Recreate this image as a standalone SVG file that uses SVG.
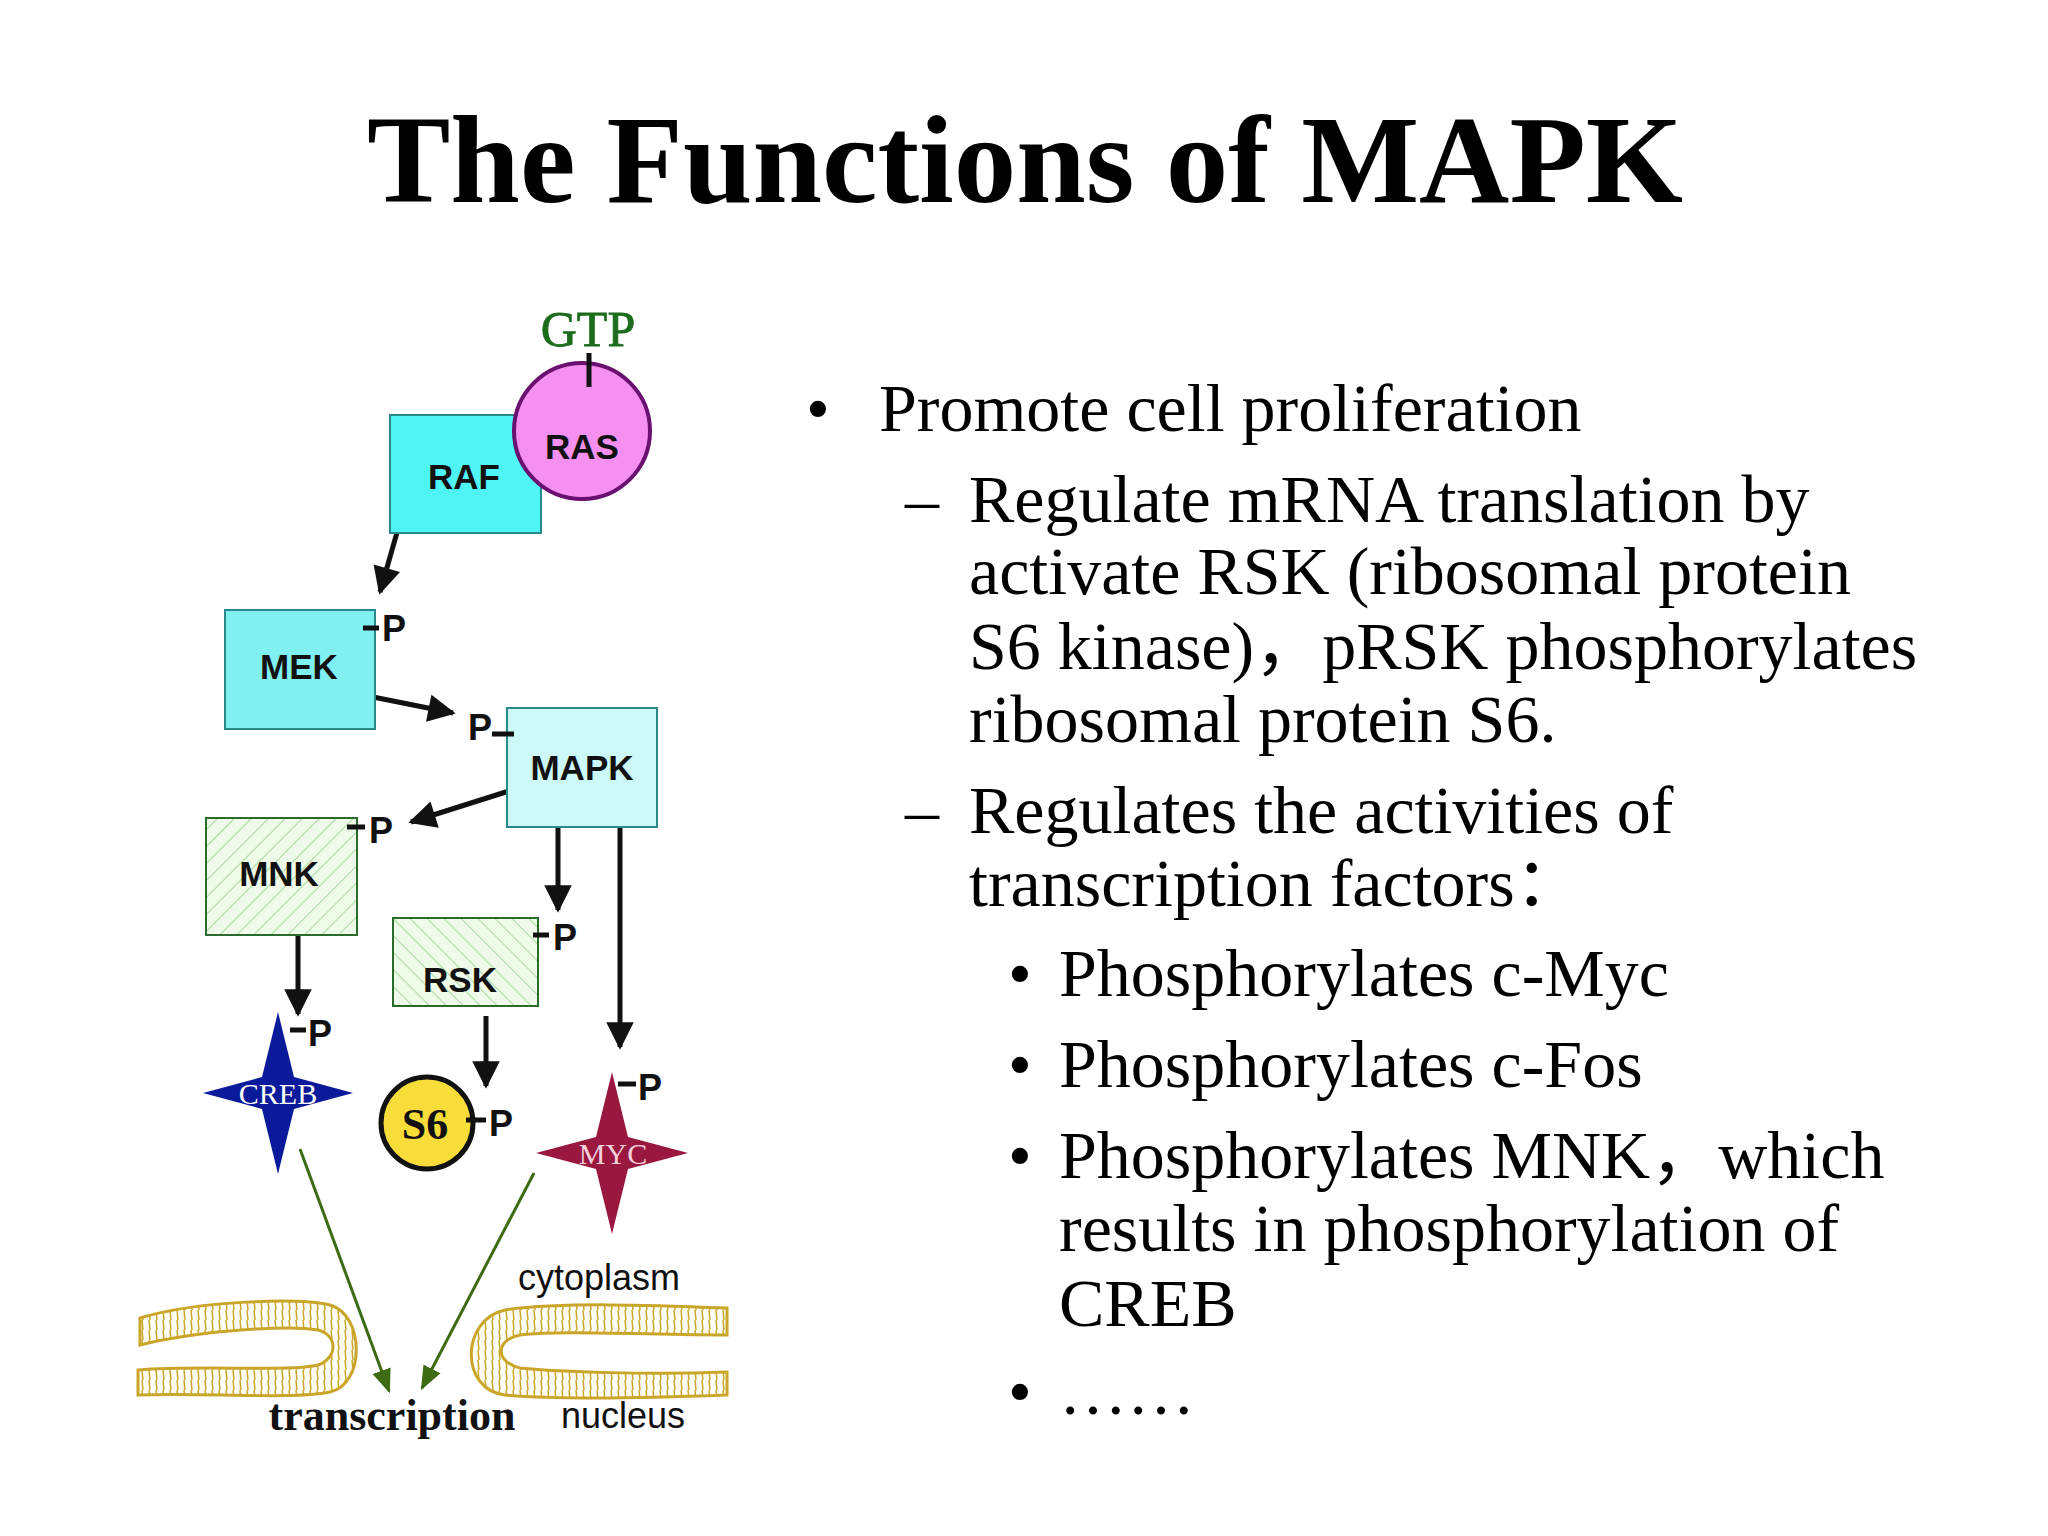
<svg xmlns="http://www.w3.org/2000/svg" width="2048" height="1536" viewBox="0 0 2048 1536">
<defs>
<style>
.lbl{font-family:"Liberation Sans",Arial,sans-serif;font-weight:bold;font-size:35px;fill:#111;text-anchor:middle}
.p{font-family:"Liberation Sans",Arial,sans-serif;font-weight:bold;font-size:36px;fill:#111}
.tick{stroke:#111;stroke-width:5}
.arr{stroke:#111;stroke-width:5;fill:none;marker-end:url(#ab)}
.garr{stroke:#3d6b14;stroke-width:3;fill:none;marker-end:url(#ag)}
.body{font-family:"Liberation Serif","Times New Roman","Noto Sans CJK SC",serif;font-size:68px;fill:#000}
.mem{stroke:#c9a62a;stroke-width:3}
</style>
<marker id="ab" viewBox="0 0 10 10" refX="9" refY="5" markerWidth="6" markerHeight="5.5" orient="auto" markerUnits="strokeWidth"><path d="M0,0 L10,5 L0,10 z" fill="#111"/></marker>
<marker id="ag" viewBox="0 0 10 10" refX="9" refY="5" markerWidth="8" markerHeight="8" orient="auto" markerUnits="strokeWidth"><path d="M0,1 L10,5 L0,9 z" fill="#3d6b14"/></marker>
<pattern id="hatch" width="12" height="12" patternUnits="userSpaceOnUse" patternTransform="rotate(45)"><rect width="12" height="12" fill="#eefbe8"/><line x1="0" y1="0" x2="0" y2="12" stroke="#a9d8a0" stroke-width="2"/></pattern>
<pattern id="hatch2" width="12" height="12" patternUnits="userSpaceOnUse" patternTransform="rotate(-45)"><rect width="12" height="12" fill="#eefbe8"/><line x1="0" y1="0" x2="0" y2="12" stroke="#a9d8a0" stroke-width="2"/></pattern>
<pattern id="memp" width="7" height="10" patternUnits="userSpaceOnUse"><rect width="7" height="10" fill="#fffef5"/><line x1="2" y1="0" x2="3" y2="10" stroke="#c9a62a" stroke-width="1.5"/></pattern>
</defs>
<rect width="2048" height="1536" fill="#fff"/>
<text x="1025" y="202" text-anchor="middle" font-family="Liberation Serif,'Times New Roman',serif" font-weight="bold" font-size="125" fill="#000">The Functions of MAPK</text>

<g id="membranes">
<path class="mem" style="fill:url(#memp)" d="M140,1318 C200,1300 300,1298 330,1305 C365,1315 365,1385 330,1392 C290,1400 200,1392 138,1395 L138,1370 C200,1365 290,1372 318,1365 C338,1358 338,1335 318,1330 C290,1325 200,1330 140,1345 Z"/>
<path class="mem" style="fill:url(#memp)" d="M727,1308 C650,1305 560,1302 505,1310 C460,1320 460,1390 505,1395 C560,1400 650,1398 727,1395 L727,1372 C650,1375 560,1372 520,1368 C495,1362 495,1340 520,1335 C560,1330 650,1335 727,1335 Z"/>
</g>

<g id="connectors">
<line class="arr" x1="400" y1="522" x2="380" y2="592"/>
<line class="arr" x1="368" y1="696" x2="453" y2="713"/>
<line class="arr" x1="509" y1="791" x2="411" y2="822"/>
<line class="arr" x1="558" y1="810" x2="558" y2="910"/>
<line class="arr" x1="620" y1="806" x2="620" y2="1047"/>
<line class="arr" x1="298" y1="914" x2="298" y2="1014"/>
<line class="arr" x1="486" y1="1016" x2="486" y2="1086"/>
<line class="garr" x1="300" y1="1149" x2="389" y2="1391"/>
<line class="garr" x1="534" y1="1173" x2="422" y2="1388"/>
</g>

<g id="gtp"><text x="588" y="346" text-anchor="middle" font-family="Liberation Serif,serif" font-size="50" fill="#1d6b1d" stroke="#1d6b1d" stroke-width="0.8">GTP</text></g>
<g id="raf"><rect x="390" y="415" width="151" height="118" fill="#4ff5f5" stroke="#2a8a8a" stroke-width="2"/><text class="lbl" x="464" y="489">RAF</text></g>
<g id="ras"><circle cx="582" cy="431" r="68" fill="#f590f0" stroke="#6a1070" stroke-width="4"/><text class="lbl" x="582" y="459">RAS</text></g>
<line class="tick" x1="589" y1="353" x2="589" y2="387"/>
<g id="mek"><rect x="225" y="610" width="150" height="119" fill="#80f0f0" stroke="#2a8a8a" stroke-width="2"/><text class="lbl" x="299" y="679">MEK</text><line class="tick" x1="363" y1="628" x2="379" y2="628"/><text class="p" x="382" y="641">P</text></g>
<g id="mapk"><rect x="507" y="708" width="150" height="119" fill="#cdf8f8" stroke="#2a8a8a" stroke-width="2"/><text class="lbl" x="582" y="780">MAPK</text><text class="p" x="468" y="740">P</text><line class="tick" x1="492" y1="734" x2="514" y2="734"/></g>
<g id="mnk"><rect x="206" y="818" width="151" height="117" fill="url(#hatch)" stroke="#2a6a2a" stroke-width="2"/><text class="lbl" x="279" y="886">MNK</text><line class="tick" x1="347" y1="827" x2="365" y2="827"/><text class="p" x="369" y="843">P</text></g>
<g id="rsk"><rect x="393" y="918" width="145" height="88" fill="url(#hatch2)" stroke="#2a6a2a" stroke-width="2"/><text class="lbl" x="460" y="992">RSK</text><line class="tick" x1="533" y1="935" x2="549" y2="935"/><text class="p" x="553" y="950">P</text></g>
<g id="creb"><path d="M278,1012 L294,1077 L353,1093 L294,1109 L278,1174 L262,1109 L203,1093 L262,1077 Z" fill="#0a1a9a"/><text x="278" y="1104" text-anchor="middle" font-family="Liberation Serif,serif" font-size="30" fill="#fff">CREB</text><line class="tick" x1="290" y1="1030" x2="306" y2="1030"/><text class="p" x="308" y="1046">P</text></g>
<g id="s6"><circle cx="427" cy="1123" r="46" fill="#f7dc3a" stroke="#111" stroke-width="5"/><text x="425" y="1139" text-anchor="middle" font-family="Liberation Serif,serif" font-weight="bold" font-size="44" fill="#111">S6</text><line class="tick" x1="466" y1="1120" x2="486" y2="1120"/><text class="p" x="489" y="1136">P</text></g>
<g id="myc"><path d="M612,1072 L628,1137 L688,1153 L628,1169 L612,1234 L596,1169 L536,1153 L596,1137 Z" fill="#9a1840"/><text x="613" y="1164" text-anchor="middle" font-family="Liberation Serif,serif" font-size="30" fill="#f5d0dc">MYC</text><line class="tick" x1="618" y1="1084" x2="636" y2="1084"/><text class="p" x="638" y="1100">P</text></g>
<g id="labels">
<text x="599" y="1290" text-anchor="middle" font-family="Liberation Sans,Arial,sans-serif" font-size="36" fill="#111">cytoplasm</text>
<text x="623" y="1428" text-anchor="middle" font-family="Liberation Sans,Arial,sans-serif" font-size="36" fill="#111">nucleus</text>
<text x="392" y="1430" text-anchor="middle" font-family="Liberation Serif,serif" font-weight="bold" font-size="44" fill="#111">transcription</text>
</g>

<g id="bullets">
<text class="body" x="806" y="431">•</text><text class="body" x="879" y="431">Promote cell proliferation</text>
<text class="body" x="905" y="522">–</text><text class="body" x="969" y="522">Regulate mRNA translation by</text>
<text class="body" x="969" y="594">activate RSK (ribosomal protein</text>
<text class="body" x="969" y="669">S6 kinase)，pRSK phosphorylates</text>
<text class="body" x="969" y="742">ribosomal protein S6.</text>
<text class="body" x="905" y="833">–</text><text class="body" x="969" y="833">Regulates the activities of</text>
<text class="body" x="969" y="906">transcription factors：</text>
<text class="body" x="1008" y="996">•</text><text class="body" x="1059" y="996">Phosphorylates c-Myc</text>
<text class="body" x="1008" y="1087">•</text><text class="body" x="1059" y="1087">Phosphorylates c-Fos</text>
<text class="body" x="1008" y="1178">•</text><text class="body" x="1059" y="1178">Phosphorylates MNK，which</text>
<text class="body" x="1059" y="1251">results in phosphorylation of</text>
<text class="body" x="1059" y="1326">CREB</text>
<text class="body" x="1008" y="1414">•</text><text class="body" x="1059" y="1414">……</text>
</g>
</svg>
